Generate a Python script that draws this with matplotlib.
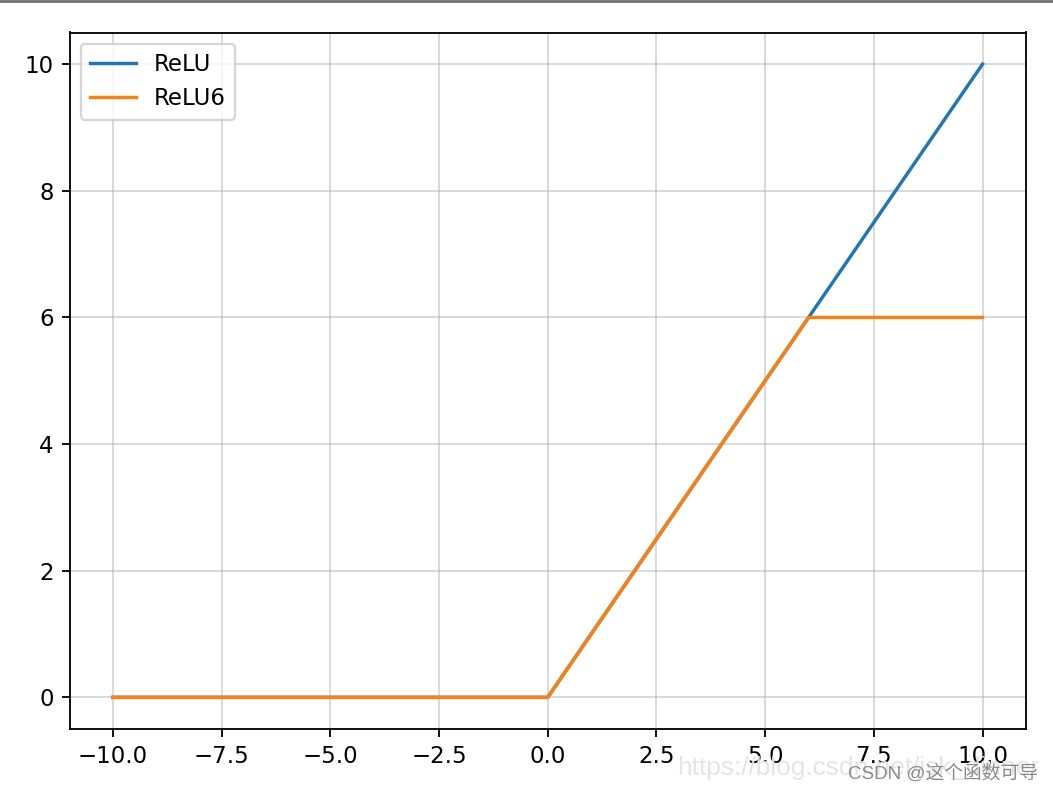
import matplotlib
matplotlib.use('Agg')
import matplotlib.pyplot as plt
from matplotlib.lines import Line2D

# breakpoints
x = [-10.0, 0.0, 6.0, 10.0]
relu = [0.0, 0.0, 6.0, 10.0]
relu6 = [0.0, 0.0, 6.0, 6.0]

DPI = 164.5
fig = plt.figure(figsize=(1053 / DPI, 792 / DPI), dpi=DPI)
ax = fig.add_axes([69.5 / 1053, 1 - 729 / 792, (1026 - 69.5) / 1053, (729 - 32.5) / 792])

ax.plot(x, relu, label='ReLU')
ax.plot(x, relu6, label='ReLU6')
ax.grid(alpha=0.5)
ax.legend(loc='upper left')

# screenshot border at the top
fig.add_artist(Line2D([0, 1], [0.9985, 0.9985], transform=fig.transFigure,
                      color='#707070', lw=1.2))

# watermark
fig.text(677 / 1053, 1 - 775 / 792, 'https://blog.csdn.net/isk_dinner',
         fontsize=11.5, color='#e4e4e4', family=['Liberation Sans', 'DejaVu Sans'])
fig.text(848 / 1053, 1 - 779 / 792, 'CSDN @这个函数可导',
         fontsize=8.2, color='#8a8a8a',
         family=['Liberation Sans', 'Noto Sans CJK SC', 'DejaVu Sans'])

fig.savefig('out.png', dpi=DPI)
